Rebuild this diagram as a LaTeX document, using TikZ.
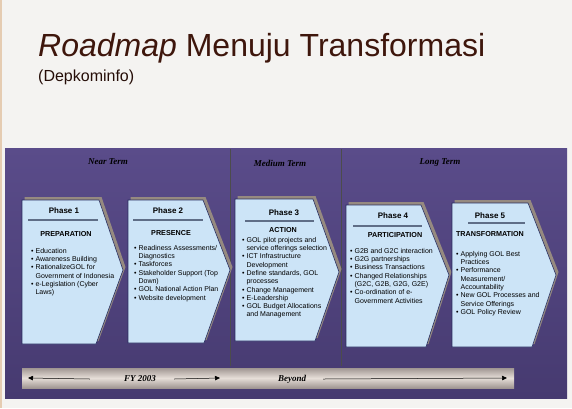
\documentclass[tikz,border=0pt]{standalone}
\usepackage{fontspec}
\setmainfont{Liberation Sans}
\newfontfamily\termfont{Liberation Serif}
\usetikzlibrary{arrows.meta,positioning,shadows}

\definecolor{pagebg}{RGB}{244,243,241}
\definecolor{paneltop}{RGB}{90,76,138}
\definecolor{panelbot}{RGB}{70,58,112}
\definecolor{boxfill}{RGB}{204,228,247}
\definecolor{boxedge}{RGB}{40,45,95}
\definecolor{bevel}{RGB}{150,138,128}
\definecolor{rulegrey}{RGB}{95,110,135}
\definecolor{titlebrown}{RGB}{62,22,12}
\definecolor{barmid}{RGB}{230,222,216}
\definecolor{baredge}{RGB}{160,150,146}

\newcommand{\bl}{\textbullet\ }
\newcommand{\ind}{\phantom{\textbullet\ }}

\begin{document}
\begin{tikzpicture}[x=1pt,y=-1pt,
    phasebox/.style={fill=boxfill,draw=boxedge,line width=0.6pt,
        drop shadow={shadow xshift=2.5pt,shadow yshift=3pt,fill=bevel,opacity=1}},
    headtxt/.style={font=\fontsize{8}{9}\selectfont\bfseries,inner sep=0pt},
    stagetxt/.style={font=\fontsize{7.2}{8}\selectfont\bfseries,inner sep=0pt},
    listtxt/.style={font=\fontsize{7}{8.3}\selectfont,align=left,anchor=north west,inner sep=0pt},
    termtxt/.style={font=\termfont\bfseries\itshape\fontsize{9}{10}\selectfont,inner sep=0pt},
    headline/.style={draw=rulegrey,line width=1.4pt},
    divider/.style={draw=black!70,line width=0.6pt},
    tline/.style={-{Triangle[length=5pt,width=4.5pt]},line width=0.5pt}]

    \useasboundingbox (0,0) rectangle (572,408);
    \fill[pagebg] (0,0) rectangle (572,408);
    \fill[brown!40] (0,0) rectangle (1.5,408);

    % Title
    \node[anchor=base west,inner sep=0pt,text=titlebrown,font=\fontsize{32}{36}\selectfont] (title) at (38,56) {\textit{Roadmap} Menuju Transformasi};
    \node[anchor=base west,inner sep=0pt,text=titlebrown!60!black,font=\fontsize{16}{18}\selectfont] (source) at (38,81) {(Depkominfo)};

    % Panel
    \shade[top color=paneltop,bottom color=panelbot] (5,148) rectangle (567,398);
    \draw[divider] (230,149) -- (230,366);
    \draw[divider] (341,149) -- (341,366);

    \node[termtxt] (near) at (108,162) {Near Term};
    \node[termtxt] (medium) at (280,163) {Medium Term};
    \node[termtxt] (long) at (440,163) {Long Term};

    % Phase 1
    \draw[phasebox] (22,200) -- (99,200) -- (123,270) -- (96,344) -- (22,344) -- cycle;
    \node[headtxt] (p1head) at (64,211) {Phase 1};
    \draw[headline] (28,220) -- (98,220);
    \node[stagetxt] (p1stage) at (66,234) {PREPARATION};
    \node[listtxt] (p1list) at (31,248) {\bl Education\\ \bl Awareness Building\\ \bl RationalizeGOL for\\ \ind Government of Indonesia\\ \bl e-Legislation (Cyber\\ \ind Laws)};

    % Phase 2
    \draw[phasebox] (128,200) -- (203,200) -- (230,270) -- (204,343) -- (128,343) -- cycle;
    \node[headtxt] (p2head) at (168,211) {Phase 2};
    \draw[headline] (133,220) -- (203,220);
    \node[stagetxt] (p2stage) at (171,233) {PRESENCE};
    \node[listtxt] (p2list) at (134,245) {\bl Readiness Assessments/\\ \ind Diagnostics\\ \bl Taskforces\\ \bl Stakeholder Support (Top\\ \ind Down)\\ \bl GOL National Action Plan\\ \bl Website development};

    % Phase 3
    \draw[phasebox] (235,199) -- (313,199) -- (339,272) -- (315,341) -- (235,341) -- cycle;
    \node[headtxt] (p3head) at (284,213) {Phase 3};
    \draw[headline] (245,221) -- (314,221);
    \node[stagetxt] (p3stage) at (283,230) {ACTION};
    \node[listtxt] (p3list) at (242,237) {\bl GOL pilot projects and\\ \ind service offerings selection\\ \bl ICT Infrastructure\\ \ind Development\\ \bl Define standards, GOL\\ \ind processes\\ \bl Change Management\\ \bl E-Leadership\\ \bl GOL Budget Allocations\\ \ind and Management};

    % Phase 4
    \draw[phasebox] (346,205) -- (421,205) -- (449,275) -- (426,347) -- (346,347) -- cycle;
    \node[headtxt] (p4head) at (393,216) {Phase 4};
    \draw[headline] (353,226) -- (422,226);
    \node[stagetxt] (p4stage) at (395,235) {PARTICIPATION};
    \node[listtxt] (p4list) at (350,248) {\bl G2B and G2C interaction\\ \bl G2G partnerships\\ \bl Business Transactions\\ \bl Changed Relationships\\ \ind (G2C, G2B, G2G, G2E)\\ \bl Co-ordination of e-\\ \ind Government Activities};

    % Phase 5
    \draw[phasebox] (452,203) -- (528,203) -- (556,275) -- (532,347) -- (452,347) -- cycle;
    \node[headtxt] (p5head) at (490,216) {Phase 5};
    \draw[headline] (468,223) -- (525,223);
    \node[stagetxt] (p5stage) at (490,234) {TRANSFORMATION};
    \node[listtxt] (p5list) at (456,251) {\bl Applying GOL Best\\ \ind Practices\\ \bl Performance\\ \ind Measurement/\\ \ind Accountability\\ \bl New GOL Processes and\\ \ind Service Offerings\\ \bl GOL Policy Review};

    % Time line
    \shade[top color=baredge,bottom color=baredge,middle color=barmid] (22,368) rectangle (514,388);
    \node[termtxt] (fy) at (140,379) {FY 2003};
    \node[termtxt] (beyond) at (292,379) {Beyond};
    \coordinate (nearend) at (28,378);
    \coordinate (fyend) at (220,378);
    \coordinate (beyondend) at (507,378);
    \draw[tline] ([xshift=-34pt]fy.west) -- (nearend);
    \draw[tline] ([xshift=18pt]fy.east) -- (fyend);
    \draw[tline] ([xshift=17pt]beyond.east) -- (beyondend);
\end{tikzpicture}
\end{document}
